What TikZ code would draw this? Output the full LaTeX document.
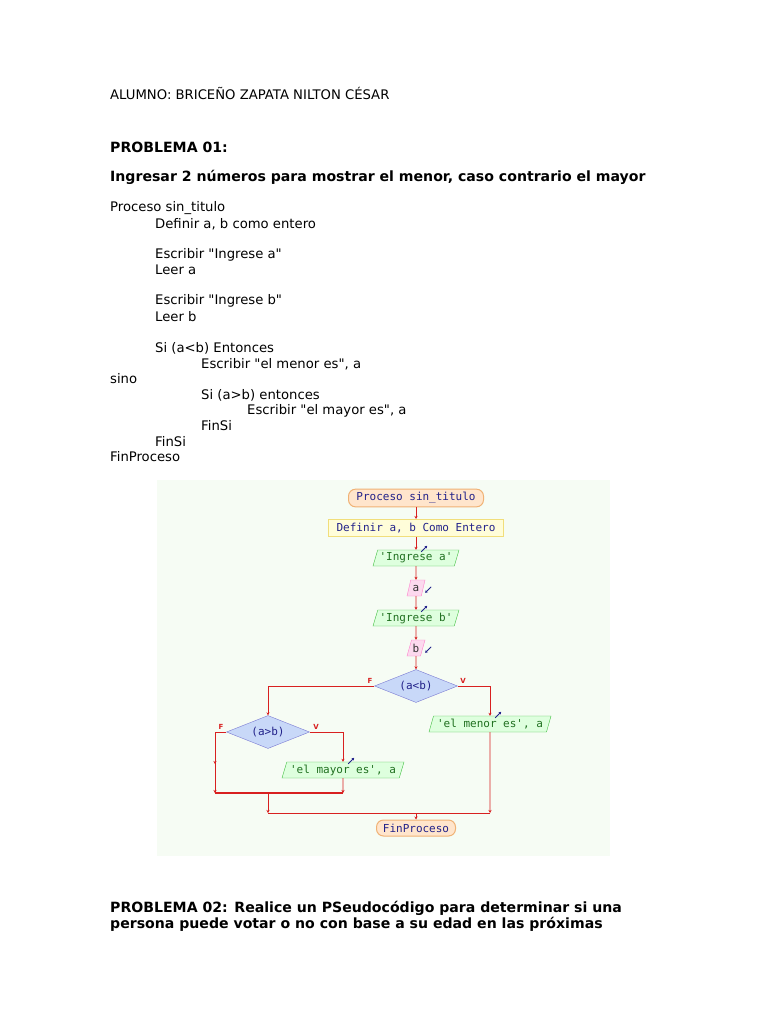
\documentclass[tikz,border=0pt]{standalone}
\usepackage{fontspec}
\setmainfont{DejaVu Sans}[Ligatures=TeXOff]
\newfontfamily\monof{DejaVu Sans Mono}[Ligatures=TeXOff]
\usetikzlibrary{shapes.geometric,arrows.meta}
\definecolor{ln}{HTML}{D82020}
\definecolor{bgc}{HTML}{F6FCF4}
\definecolor{navy}{HTML}{22228A}
\definecolor{dgreen}{HTML}{207020}
\definecolor{decf}{HTML}{C8D8F8}
\tikzset{
 tx/.style={anchor=west,inner sep=0pt,font=\fontsize{13.2}{15}\selectfont},
 txb/.style={tx,font=\fontsize{14.1}{16}\selectfont\bfseries},
 mf/.style={font=\monof\fontsize{11}{12}\selectfont},
 term/.style={mf,rounded corners=7pt,draw=orange!60!brown!60,fill=orange!20,line width=1pt,text=navy,minimum height=16pt,inner xsep=4pt},
 defb/.style={mf,draw=yellow!60!brown!60,fill=yellow!15,line width=1pt,text=navy,minimum height=17pt,inner xsep=3pt},
 outp/.style={mf,trapezium,trapezium left angle=72,trapezium right angle=108,trapezium stretches body,draw=green!50!gray,fill=green!13,text=dgreen,minimum height=16pt,inner xsep=0pt,inner ysep=2pt},
 inp/.style={mf,trapezium,trapezium left angle=70,trapezium right angle=110,trapezium stretches body,draw=red!40!magenta!50,fill=magenta!15,text=black!80,minimum height=16pt,inner xsep=0pt,inner ysep=2pt},
 dec/.style={mf,diamond,aspect=2.5,draw=blue!50!gray!70,fill=decf,text=navy,inner sep=0pt,minimum width=83pt,minimum height=33pt},
 fl/.style={draw=ln,line width=0.9pt},
 ar/.style={fl,-{Stealth[length=3pt,width=3pt]}},
 lab/.style={text=ln,font=\fontsize{7}{8}\selectfont\bfseries},
 ico/.style={draw=navy,line width=0.8pt,-{Stealth[length=2.5pt,width=3pt]}}
}
\begin{document}
\begin{tikzpicture}[x=1pt,y=-1pt]
\useasboundingbox (0,0) rectangle (768,1024);
\fill[white] (0,0) rectangle (768,1024);
\node[tx] (t1) at (110,93) {ALUMNO: BRICEÑO ZAPATA NILTON CÉSAR};
\node[txb] (t2) at (110,147) {PROBLEMA 01:};
\node[txb] (t3) at (110,177) {Ingresar 2 números para mostrar el menor, caso contrario el mayor};
\node[tx] (p1) at (110,208) {Proceso sin\_titulo};
\node[tx] (p2) at (155,224) {Definir a, b como entero};
\node[tx] (p3) at (155,255) {Escribir "Ingrese a"};
\node[tx] (p4) at (155,270) {Leer a};
\node[tx] (p5) at (155,301) {Escribir "Ingrese b"};
\node[tx] (p6) at (155,317) {Leer b};
\node[tx] (p7) at (155,348) {Si (a<b) Entonces};
\node[tx] (p8) at (201,364) {Escribir "el menor es", a};
\node[tx] (p9) at (110,379) {sino};
\node[tx] (p10) at (201,395) {Si (a>b) entonces};
\node[tx] (p11) at (247,411) {Escribir "el mayor es", a};
\node[tx] (p12) at (201,426) {FinSi};
\node[tx] (p13) at (155,442) {FinSi};
\node[tx] (p14) at (110,457) {FinProceso};
\node[txb] (q1) at (110,908) {PROBLEMA 02: Realice un PSeudocódigo para determinar si una};
\node[txb] (q2) at (110,924) {persona puede votar o no con base a su edad en las próximas};
% flowchart
\fill[bgc] (157,480) rectangle (610,856);
\node[term,minimum width=135pt] (ini) at (416,498) {Proceso sin\_titulo};
\node[defb,minimum width=175pt] (def) at (416,528) {Definir a, b Como Entero};
\node[outp,minimum width=86pt] (ia) at (416,558) {'Ingrese a'};
\node[inp,minimum width=18pt] (a) at (416,588) {a};
\node[outp,minimum width=86pt] (ib) at (416,618) {'Ingrese b'};
\node[inp,minimum width=18pt] (b) at (416,648) {b};
\node[dec] (d1) at (416,686) {(a<b)};
\node[dec] (d2) at (268,732) {(a>b)};
\node[outp,minimum width=122pt] (men) at (490,724) {'el menor es', a};
\node[outp,minimum width=122pt] (may) at (343,770) {'el mayor es', a};
\node[term,minimum width=79pt] (fin) at (416,828) {FinProceso};
\draw[ico] ([xshift=-3pt,yshift=-2pt]ia.north east) -- ++(6,-6);
\draw[ico] ([xshift=-3pt,yshift=-2pt]ib.north east) -- ++(6,-6);
\draw[ico] ([xshift=-3pt,yshift=-2pt]men.north east) -- ++(6,-6);
\draw[ico] ([xshift=-3pt,yshift=-2pt]may.north east) -- ++(6,-6);
\draw[ico] ([xshift=7pt,yshift=-7pt]a.north east) -- ++(-6,6);
\draw[ico] ([xshift=7pt,yshift=-7pt]b.north east) -- ++(-6,6);
\draw[ar] (ini) -- (def);
\draw[ar] (def) -- (ia);
\draw[ar] (ia) -- (a);
\draw[ar] (a) -- (ib);
\draw[ar] (ib) -- (b);
\draw[ar] (b) -- (d1);
\draw[ar] (d1.west) -| (d2.north);
\draw[ar] (d1.east) -| (men.north);
\node[lab] (f1) at (370,681) {F};
\node[lab] (v1) at (463,681) {V};
\node[lab] (f2) at (221,727) {F};
\node[lab] (v2) at (316,727) {V};
\draw[ar] (d2.east) -| (may.north);
\coordinate (jl) at (215,793);
\coordinate (jr) at (343,793);
\coordinate (jm) at (268,793);
\coordinate (kl) at (268,813);
\coordinate (kr) at (490,813);
\coordinate (km) at (416,813);
\draw[fl] (d2.west) -- (215,732) -- (jl);
\draw[ar] (215,732) -- (215,764);
\draw[ar] (may.south) -- (jr);
\draw[ar] (jl) ++(0,-2) -- (jl);
\draw[draw=ln,line width=1.6pt] (jl) -- (jr);
\draw[ar] (jm) -- (kl);
\draw[ar] (men.south) -- (kr);
\draw[fl] (kl) -- (kr);
\draw[ar] (km) -- (fin);
\end{tikzpicture}
\end{document}
